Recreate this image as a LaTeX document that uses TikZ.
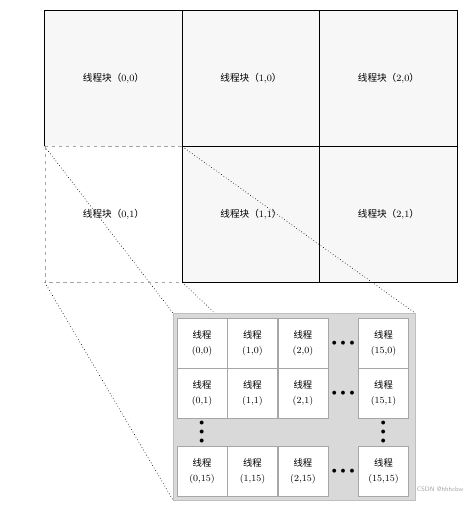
\documentclass[tikz,border=0pt]{standalone}
\usepackage{fontspec}
\newfontfamily\cjk{Noto Sans CJK SC}
\usetikzlibrary{positioning,calc,fit}
\newcommand{\blk}[1]{{\cjk 线程块（}#1{\cjk ）}}
\newcommand{\thr}[1]{{\cjk 线程}\\(#1)}
\tikzset{
  bk/.style={rectangle, minimum width=41.1mm, minimum height=40.65mm, inner sep=0pt, fill=black!3, font=\fontsize{8.2}{10}\selectfont},
  bkw/.style={bk, fill=white},
  cl/.style={rectangle, minimum width=15mm, minimum height=15mm, inner sep=0pt, draw=black!35, fill=white, align=center, font=\fontsize{8}{12.8}\selectfont},
  pnl/.style={rectangle, inner sep=0pt, fill=black!15, draw=black!25},
  dh/.style={inner sep=0pt, font=\fontsize{8.5}{9}\selectfont},
  bd/.style={line width=1pt},
  fa/.style={black!35, dashed, thin},
  zl/.style={dotted, line width=0.55pt},
  node distance=0pt
}
\begin{document}
\begin{tikzpicture}[x=0.3mm, y=-0.3mm]
	\useasboundingbox (0,0) rectangle (474,507);
	% blocks
	\node[bk] (b00) at (113.5,78.5) {\blk{0,0}};
	\node[bk, right=of b00] (b10) {\blk{1,0}};
	\node[bk, right=of b10] (b20) {\blk{2,0}};
	\node[bkw, below=of b00] (b01) {\blk{0,1}};
	\node[bk, right=of b01] (b11) {\blk{1,1}};
	\node[bk, right=of b11] (b21) {\blk{2,1}};
	%
	\draw[fa] (b00.south west) -- (b01.south west) -- (b01.south east);
	\draw[fa] (b00.south west) -- (b00.south east);
	\draw[bd] (b00.south west) -- (b00.north west) -- (b20.north east) -- (b21.south east) -- (b11.south west) -- (b10.north west);
	\draw[bd] (b10.south west) -- (b20.south east);
	\draw[bd] (b20.north west) -- (b21.south west);
	% zoom lines
	\coordinate (pnw) at (173,313);
	\coordinate (pse) at (415,500);
	\draw[zl] (b01.north west) -- (pnw);
	\draw[zl] (b01.north east) -- (pnw -| pse);
	\draw[zl] (b01.south west) -- (pnw |- pse);
	\draw[zl] (b01.south east) -- (pse);
	\node[pnl, fit=(pnw)(pse)] (panel) {};
	% threads
	\node[cl] (c00) at (202,343) {\thr{0,0}};
	\node[cl, right=of c00] (c10) {\thr{1,0}};
	\node[cl, right=of c10] (c20) {\thr{2,0}};
	\node[cl, below=of c00] (c01) {\thr{0,1}};
	\node[cl, right=of c01] (c11) {\thr{1,1}};
	\node[cl, right=of c11] (c21) {\thr{2,1}};
	\node[cl] (c150) at (383.5,343) {\thr{15,0}};
	\node[cl, below=of c150] (c151) {\thr{15,1}};
	\node[cl] (c015) at (202,471) {\thr{0,15}};
	\node[cl, right=of c015] (c115) {\thr{1,15}};
	\node[cl, right=of c115] (c215) {\thr{2,15}};
	\node[cl] (c1515) at (383.5,471) {\thr{15,15}};
	% dots
	\node[dh] (d0) at ($(c20.east)!0.5!(c150.west)$) {$\bullet\,\bullet\,\bullet$};
	\node[dh] (d1) at ($(c21.east)!0.5!(c151.west)$) {$\bullet\,\bullet\,\bullet$};
	\node[dh] (d15) at ($(c215.east)!0.5!(c1515.west)$) {$\bullet\,\bullet\,\bullet$};
	\node[dh, rotate=90] (v0) at ($(c01.south)!0.5!(c015.north)$) {$\bullet\,\bullet\,\bullet$};
	\node[dh, rotate=90] (v15) at ($(c151.south)!0.5!(c1515.north)$) {$\bullet\,\bullet\,\bullet$};
	%
	\node[font=\sffamily\fontsize{5.5}{6}\selectfont, text=black!35] (wm) at (440,489) {CSDN @hhhcbw};
\end{tikzpicture}
\end{document}
